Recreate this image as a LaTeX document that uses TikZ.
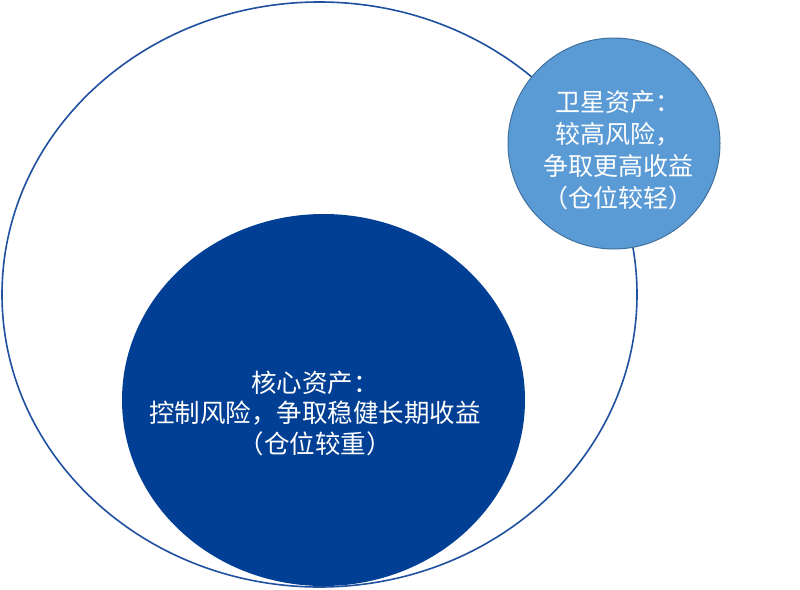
\documentclass[tikz,border=0pt]{standalone}
\usepackage{fontspec}
\setmainfont{Noto Sans CJK SC}
\usetikzlibrary{shapes.geometric}
\definecolor{outerline}{RGB}{32,80,160}
\definecolor{corefill}{RGB}{0,63,148}
\definecolor{satfill}{RGB}{91,155,213}
\definecolor{satline}{RGB}{65,113,156}
\begin{document}
\begin{tikzpicture}[x=1pt,y=-1pt,
  blob/.style={ellipse, inner sep=0pt, outer sep=0pt},
  lbl/.style={text=white, align=center, inner sep=0pt}]
\useasboundingbox (0,0) rectangle (800,589);
\fill[white] (0,0) rectangle (800,589);
\node[blob, draw=outerline, line width=1.6pt, fill=white, minimum width=635pt, minimum height=585pt] (outer) at (319.5,294.5) {};
\node[blob, fill=corefill, minimum width=403pt, minimum height=372pt] (core) at (323.5,400) {};
\node[blob, draw=satline, line width=1pt, fill=satfill, minimum width=212pt, minimum height=211pt] (sat) at (614,143.5) {};
\node[lbl, font=\fontsize{25.5}{30.5}\selectfont] (coretext) at (315,413) {核心资产：\\控制风险，争取稳健长期收益\\（仓位较重）};
\node[lbl, font=\fontsize{25}{32}\selectfont] (sattext) at (618,150) {卫星资产：\\较高风险，\\争取更高收益\\（仓位较轻）};
\end{tikzpicture}
\end{document}
